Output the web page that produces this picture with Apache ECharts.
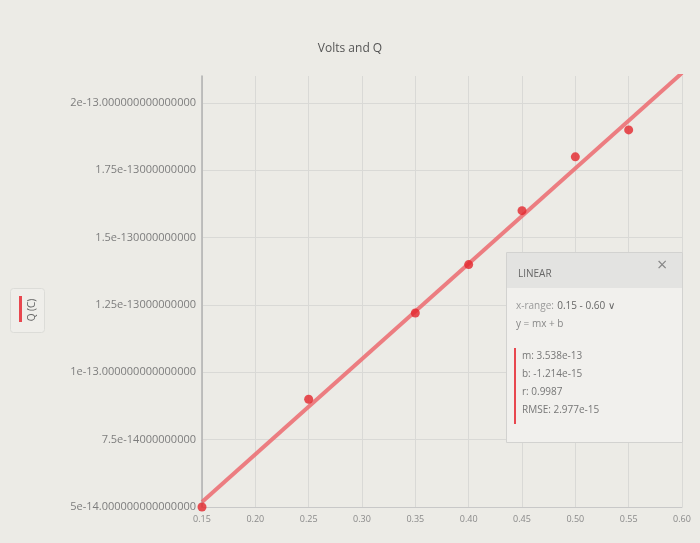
<!DOCTYPE html>
<html>
<head>
<meta charset="utf-8">
<script src="https://cdn.jsdelivr.net/npm/echarts@6/dist/echarts.min.js"></script>
<style>
html,body{margin:0;padding:0;background:#ecebe6;}
#chart{width:700px;height:543px;}
</style>
</head>
<body>
<div id="chart"></div>
<script>
// Data
const voltage = [0.15, 0.25, 0.35, 0.40, 0.45, 0.50, 0.55];
const charge = [5.0e-14, 9.0e-14, 1.22e-13, 1.40e-13, 1.60e-13, 1.80e-13, 1.90e-13];
// Linear fit line (from panel: m = 3.538e-13, b = -1.214e-15)
const fitX = [0.15, 0.60];
const fitY = [5.186e-14, 2.111e-13];
// Tick labels as shown
const yTickValues = [5e-14, 7.5e-14, 1e-13, 1.25e-13, 1.5e-13, 1.75e-13, 2e-13];
const yTickLabels = ['5e-14.000000000000000', '7.5e-14000000000', '1e-13.000000000000000',
  '1.25e-13000000000', '1.5e-130000000000', '1.75e-13000000000', '2e-13.000000000000000'];
const xTickLabels = ['0.15', '0.20', '0.25', '0.30', '0.35', '0.40', '0.45', '0.50', '0.55', '0.60'];
const fitLines = ['m: 3.538e-13', 'b: -1.214e-15', 'r: 0.9987', 'RMSE: 2.977e-15'];

const chart = echarts.init(document.getElementById('chart'));
const FONT = '"Open Sans", "Noto Sans", sans-serif';

function yLabel(v) {
  for (let i = 0; i < yTickValues.length; i++) {
    if (Math.abs(v - yTickValues[i]) < 1e-16) return yTickLabels[i];
  }
  return '';
}
function xLabel(v) {
  const s = v.toFixed(2);
  return xTickLabels.indexOf(s) >= 0 ? s : '';
}
function withZ(items) {
  return items.map(function (it) { it.z = 100; it.zlevel = 0; return it; });
}

const option = {
  backgroundColor: '#ecebe6',
  animation: false,
  title: {
    text: 'Volts and Q', left: 'center', top: 38,
    textStyle: { fontFamily: FONT, fontSize: 12, fontWeight: 'normal', color: '#555' }
  },
  grid: { left: 202, right: 18, top: 76, bottom: 36 },
  xAxis: {
    type: 'value', min: 0.15, max: 0.60, interval: 0.05,
    axisLine: { show: true, lineStyle: { color: '#c8c8c8' } },
    axisTick: { show: false },
    axisLabel: { formatter: xLabel, color: '#8a8a8a', fontFamily: FONT, fontSize: 9, margin: 8 },
    splitLine: { show: true, lineStyle: { color: '#d9d9d6' } }
  },
  yAxis: {
    type: 'value', min: 5e-14, max: 2.1e-13, interval: 2.5e-14,
    axisLine: { show: true, lineStyle: { color: '#b0b0b0', width: 1.5 } },
    axisTick: { show: false },
    axisLabel: { formatter: yLabel, color: '#7d7d7d', fontFamily: FONT, fontSize: 11, margin: 6, showMaxLabel: false },
    splitLine: { show: true, showMaxLine: false, lineStyle: { color: '#d9d9d6' } }
  },
  series: [
    {
      type: 'line', data: fitX.map((x, i) => [x, fitY[i]]),
      symbol: 'none', clip: true,
      lineStyle: { color: '#ec6a6e', width: 4, opacity: 0.85 }, z: 2
    },
    {
      type: 'scatter', data: voltage.map((x, i) => [x, charge[i]]),
      symbolSize: 9, itemStyle: { color: '#e3262c' }, z: 3, clip: false
    }
  ],
  graphic: withZ([
    // y-axis name box with legend swatch
    { type: 'rect', left: 10, top: 288, shape: { width: 34, height: 44, r: 3 },
      style: { fill: '#efeeea', stroke: '#dcdcd8', lineWidth: 1 } },
    { type: 'rect', left: 19, top: 296, shape: { width: 3, height: 26 },
      style: { fill: '#e8474f' } },
    { type: 'text', x: 32, y: 310, rotation: Math.PI / 2,
      style: { text: 'Q (C)', fill: '#666', font: '10px ' + FONT, align: 'center', verticalAlign: 'middle' } },
    // Linear fit panel
    { type: 'rect', left: 506, top: 252, shape: { width: 176, height: 190 },
      style: { fill: '#f1f0ed', stroke: '#d2d2d0', lineWidth: 1 } },
    { type: 'rect', left: 507, top: 253, shape: { width: 175, height: 35 },
      style: { fill: '#e3e3e1' } },
    { type: 'text', x: 518, y: 274,
      style: { text: 'LINEAR', fill: '#666', font: '10px ' + FONT, verticalAlign: 'middle' } },
    { type: 'text', x: 657, y: 266,
      style: { text: '×', fill: '#888', font: '18px ' + FONT, verticalAlign: 'middle' } },
    { type: 'text', x: 516, y: 306,
      style: { text: '{a|x-range:} {b|0.15 - 0.60 ∨}', verticalAlign: 'middle',
        rich: { a: { fill: '#999', fontSize: 10, fontFamily: FONT }, b: { fill: '#666', fontSize: 10, fontFamily: FONT } } } },
    { type: 'text', x: 516, y: 324,
      style: { text: 'y = mx + b', fill: '#888', font: '10px ' + FONT, verticalAlign: 'middle' } },
    { type: 'rect', left: 514, top: 348, shape: { width: 2, height: 76 },
      style: { fill: '#e8474f' } },
    { type: 'text', x: 522, y: 356,
      style: { text: fitLines[0], fill: '#777', font: '10px ' + FONT, verticalAlign: 'middle' } },
    { type: 'text', x: 522, y: 374,
      style: { text: fitLines[1], fill: '#777', font: '10px ' + FONT, verticalAlign: 'middle' } },
    { type: 'text', x: 522, y: 392,
      style: { text: fitLines[2], fill: '#777', font: '10px ' + FONT, verticalAlign: 'middle' } },
    { type: 'text', x: 522, y: 410,
      style: { text: fitLines[3], fill: '#777', font: '10px ' + FONT, verticalAlign: 'middle' } }
  ])
};
chart.setOption(option);
</script>
</body>
</html>
